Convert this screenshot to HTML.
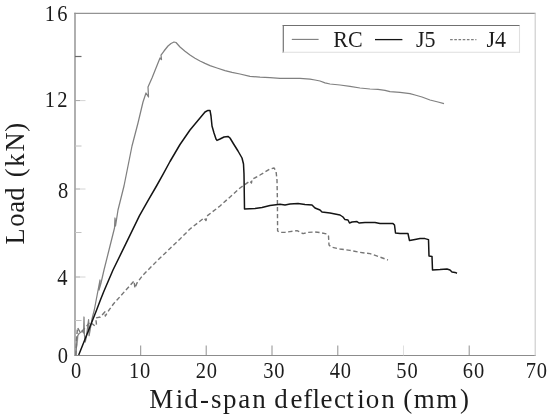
<!DOCTYPE html>
<html><head><meta charset="utf-8"><title>Load vs mid-span deflection</title>
<style>
html,body{margin:0;padding:0;background:#fff;}
body{width:550px;height:420px;overflow:hidden;}
svg{display:block;}
text{font-family:"Liberation Serif","DejaVu Serif",serif;fill:#1c1c1c;}
.tk{font-size:20.5px;}
.lg{font-size:22px;}
</style></head><body>
<svg width="550" height="420" viewBox="0 0 550 420">
<rect width="550" height="420" fill="#fff"/>
<!-- frame -->
<g fill="none" stroke-linecap="butt">
<line x1="75" y1="12.8" x2="75" y2="355.6" stroke="#8e8e8e" stroke-width="1.4"/>
<line x1="74.3" y1="13.4" x2="535.6" y2="13.4" stroke="#939393" stroke-width="1.3"/>
<line x1="74.3" y1="355.45" x2="536" y2="355.45" stroke="#8c8c8c" stroke-width="1.05"/>
<line x1="535.2" y1="13" x2="535.2" y2="355.9" stroke="#cacaca" stroke-width="1.1"/>
</g>
<!-- y ticks -->
<g stroke="#a4a4a4" stroke-width="1">
<line x1="75" y1="100.6" x2="80" y2="100.6"/>
<line x1="75" y1="189" x2="80" y2="189"/>
<line x1="75" y1="277" x2="80" y2="277"/>
</g>
<g stroke="#d4d4d4" stroke-width="1">
<line x1="80" y1="100.6" x2="85.5" y2="100.6"/>
<line x1="80" y1="189" x2="85.5" y2="189"/>
<line x1="80" y1="277" x2="85.5" y2="277"/>
</g>
<g stroke="#c2c2c2" stroke-width="1">
<line x1="75" y1="146" x2="81.5" y2="146"/>
<line x1="75" y1="232.5" x2="81.5" y2="232.5"/>
<line x1="75" y1="320.5" x2="81.5" y2="320.5"/>
</g>
<line x1="75" y1="56.5" x2="81.5" y2="56.5" stroke="#6a6a6a" stroke-width="1.2"/>
<!-- x ticks -->
<g stroke="#858585" stroke-width="0.9">
<line x1="140.7" y1="345.5" x2="140.7" y2="355.4"/>
<line x1="206.2" y1="345.5" x2="206.2" y2="355.4"/>
<line x1="272" y1="345.5" x2="272" y2="355.4"/>
<line x1="337.8" y1="345.5" x2="337.8" y2="355.4"/>
<line x1="403.5" y1="345.5" x2="403.5" y2="355.4" stroke="#dcdcdc"/>
<line x1="469.2" y1="345.5" x2="469.2" y2="355.4"/>
</g>
<!-- curves -->
<polygon points="75.7,354.6 76,336.5 78.6,336 77.6,345" fill="#9c9c9c" opacity="0.75"/>
<g fill="none" stroke-linejoin="round" stroke-linecap="butt">
<path id="rc" stroke="#808080" stroke-width="1.25" d="M75.8,355 L76.6,345 L77.3,336.5 L79,333.6 L82.3,331.2 L83.6,333 L84,317 L84.4,334.6 L85.2,342 L86.5,336 L88.6,319.7 L89.1,335.7 L90.5,328 L92,319 L94.3,310 L96,301 L100,280 L99,290 L101,283 L104,270 L109,250 L114.5,228 L115,218 L115.5,226 L118,210 L124,186 L132,146 L138,123 L143,102 L146,93 L148.5,97 L148,87 L152,78 L156,68 L160,58 L161.5,59.5 L161,55 L164,51 L168,46 L171,43.5 L174,42 L176,42.5 L180,47 L185,51.2 L190,55 L195,58.2 L200,61 L205,63.4 L210,65.6 L217,68 L225,70.6 L232,72.4 L240,74 L250,76.4 L260,77.2 L270,77.7 L280,78.4 L290,78.4 L300,78.4 L310,79.2 L315,80 L320,81 L325,82.8 L330,84 L340,85 L350,86.4 L360,88 L370,89 L378,89.4 L385,90.4 L390,91.6 L400,92.4 L410,93.6 L415,95 L422,97 L430,100 L438,102 L444,103.6"/>
<path id="j4" stroke="#767676" stroke-width="1.4" stroke-dasharray="4.4 2.6" d="M76,355 L76.5,340 L77.5,327.6 L80.3,332.5 L83,330 L86,327 L90,322 L95,326 L96.5,325 L95.8,318 L100.3,317 L105,311.7 L105.3,316 L109.3,309.7 L113.4,304 L117,300 L125,291 L134,281 L135,288 L137,283 L143,275 L148,270 L160,258 L170,248.5 L180,239 L190,229 L204,218 L206,220.5 L207,216 L220,206 L240,188 L250,181 L251.5,183 L252,179.5 L260,175 L270,169 L274,168 L276,171 L277,180 L277.4,200 L277.6,231 L280,232.4 L285,232.4 L290,231.6 L297,230.6 L300,232 L303,233.6 L308,232.4 L315,232 L320,232.6 L327,234 L328.5,236 L329,245 L331,247 L340,249 L350,250.4 L360,252.4 L370,253.6 L378,256.4 L388,260"/>
<path id="j5" stroke="#141414" stroke-width="1.5" d="M78.7,355 L88.7,330 L96.6,310 L100.4,300 L104,291 L113,270 L126,243.4 L139.5,215.7 L148,200.6 L156.5,186 L163,174.3 L170,161.5 L180,144.5 L190,130 L200,118 L205,112 L208,110.4 L210,110.4 L211,116 L212,126 L214,133 L216,139 L217,140.4 L220,139 L224,137 L228,136.4 L230,138 L233,143 L238,151 L242,158 L243.5,164 L244,174 L244.5,209 L255,208.4 L262,207.5 L270,205.5 L280,204.3 L285,205 L290,204 L298,203.4 L305,204.4 L312,205 L315,208 L320,210 L322,212 L330,213 L340,215 L343,217 L345,219.6 L348,220 L349.5,223 L352,222 L357,221.6 L359,223 L365,222.6 L375,222.6 L380,223.6 L393,223.6 L394.5,225 L395.5,233 L400,233.6 L408,233.6 L408.5,236 L409.5,240.6 L415,239.4 L420,238.4 L425,238.6 L428.5,239.6 L429,256 L432,256.4 L432.5,270 L440,269.6 L447,269 L450,270 L452,272 L455,272.4 L457,273.2"/>
</g>
<!-- legend -->
<g fill="none">
<line x1="283.3" y1="25" x2="283.3" y2="53" stroke="#747474" stroke-width="1.2"/>
<line x1="282.7" y1="25.45" x2="520" y2="25.45" stroke="#707070" stroke-width="1.05"/>
<line x1="283" y1="52.3" x2="520" y2="52.3" stroke="#dedede" stroke-width="1.1"/>
<line x1="519.5" y1="25.5" x2="519.5" y2="53" stroke="#e0e0e0" stroke-width="1.1"/>
<line x1="291.8" y1="39.4" x2="318.6" y2="39.4" stroke="#7c7c7c" stroke-width="1.1"/>
<line x1="375" y1="39.6" x2="402.4" y2="39.6" stroke="#141414" stroke-width="1.3"/>
<line x1="450.1" y1="39.7" x2="476.4" y2="39.7" stroke="#7d7d7d" stroke-width="1.2" stroke-dasharray="2.6 1.6"/>
</g>
<text class="lg" transform="translate(333.3 47.2) scale(1 1.09)">RC</text>
<text class="lg" transform="translate(416 47.2) scale(1 1.09)">J5</text>
<text class="lg" transform="translate(486.5 47.2) scale(1 1.09)">J4</text>
<!-- y tick labels -->
<g class="tk" text-anchor="end" letter-spacing="2.3">
<text transform="translate(69.8 21.2) scale(1 1.13)">16</text>
<text transform="translate(69.8 106.8) scale(1 1.13)">12</text>
<text transform="translate(70.6 198.4) scale(1 1.13)">8</text>
<text transform="translate(69.8 284.8) scale(1 1.13)">4</text>
<text transform="translate(70.4 362.6) scale(1 1.13)">0</text>
</g>
<!-- x tick labels -->
<g class="tk" text-anchor="middle" letter-spacing="0.8">
<text transform="translate(76.4 378) scale(1 1.13)">0</text>
<text transform="translate(140 378) scale(1 1.13)">10</text>
<text transform="translate(206.8 378) scale(1 1.13)">20</text>
<text transform="translate(274.3 378) scale(1 1.13)">30</text>
<text transform="translate(340.8 378) scale(1 1.13)">40</text>
<text transform="translate(407.4 378) scale(1 1.13)">50</text>
<text transform="translate(473.9 378) scale(1 1.13)">60</text>
<text transform="translate(536.8 378) scale(1 1.13)">70</text>
</g>
<!-- axis titles -->
<text id="xt" font-size="27.0" transform="translate(0 407.6) scale(1 1.03)" x="149.38 175.87 184.27 199.95 211.02 223.06 238.2 252.17 262.16999999999996 274.37 290.62 303.36 312.59 320.62 333.93 346.35 357.17 365.82 381.17 391.17 403.2 413.77 436.27 459.92" y="0">Mid-span deflection (mm)</text>
<text id="yt" font-size="26.5" transform="translate(23.5 244.2) rotate(-90)" x="-0.32 17.53 31.52 43.48 55.48 67.03 77.41 92.82 112.53" y="0">Load (kN)</text>
</svg>
</body></html>
